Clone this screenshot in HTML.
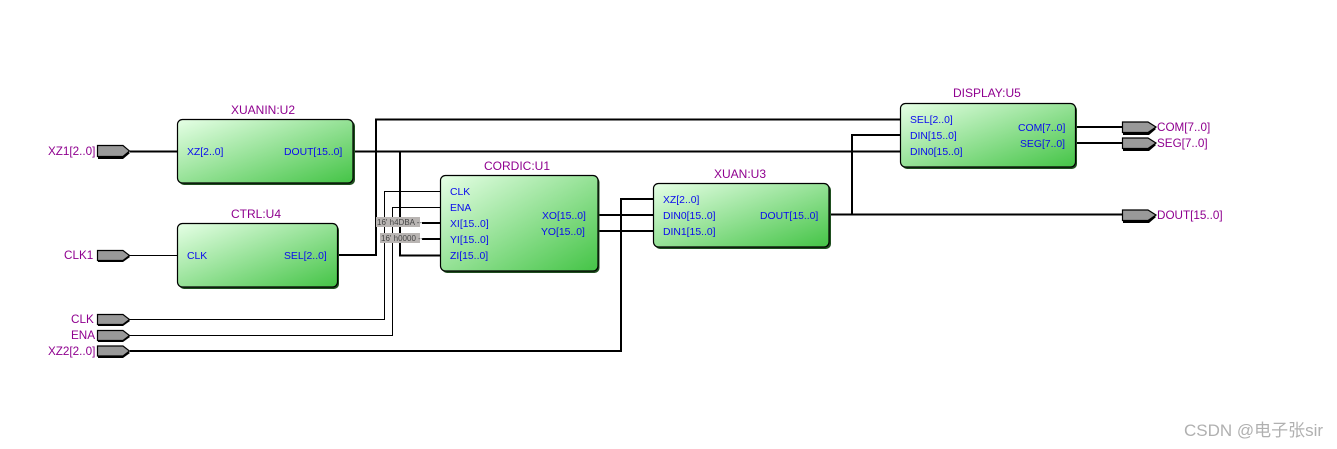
<!DOCTYPE html>
<html><head><meta charset="utf-8"><style>
html,body{margin:0;padding:0;background:#fff}
svg{display:block}
text{font-family:"Liberation Sans",Arial,sans-serif}
.t{font-size:11.7px;fill:#8f008f}
.h{font-size:12px;fill:#8f008f}
.p{font-size:10.4px;fill:#0a0aee}
.b{fill:url(#g);stroke:#000;stroke-width:1.2}
.s{fill:#1f4f1f}
.w{fill:none;stroke:#000;stroke-width:2}
.n{fill:none;stroke:#000;stroke-width:1}
.pin{fill:#999;stroke:#000;stroke-width:1.2}
.ps{fill:#000}
.c{font-size:8px;fill:#444}
</style></head><body>
<svg width="1337" height="449" viewBox="0 0 1337 449" xmlns="http://www.w3.org/2000/svg">
<defs><linearGradient id="g" x1="0" y1="0" x2="1" y2="1"><stop offset="0" stop-color="#e6ffe6"/><stop offset="1" stop-color="#44c446"/></linearGradient></defs>

<!-- wires -->
<path class="w" d="M130 151.500H177"/>
<path class="n" d="M130 255.500H177"/>
<path class="w" d="M353 151.500H900"/>
<path class="w" d="M400 151.500V255.500H440"/>
<path class="w" d="M338 255H376V119.500H900"/>
<path class="n" d="M130 319.500H384.500V191.500H440"/>
<path class="n" d="M130 335.500H392.500V207.500H440"/>
<path class="w" d="M130 351H621V199H653"/>
<path class="w" d="M422 223H440M422 239H440"/>
<path class="w" d="M598 215H653M598 231H653"/>
<path class="w" d="M829 214.500H1122"/>
<path class="w" d="M852 214.500V135H900"/>
<path class="w" d="M1075 127H1122M1075 143H1122"/>

<!-- constants -->
<rect x="376" y="217" width="44" height="10" fill="#b9b5b3"/>
<rect x="380" y="233" width="40" height="10" fill="#b9b5b3"/>
<text class="c" x="377" y="225">16' h4DBA --</text>
<text class="c" x="381" y="241">16' h0000 --</text>

<!-- blocks -->
<rect class="s" x="179" y="121" width="176" height="64" rx="5"/>
<rect class="b" x="177.500" y="119.500" width="175.500" height="63.500" rx="5"/>
<rect class="s" x="179" y="225" width="160" height="64" rx="5"/>
<rect class="b" x="177.500" y="223.500" width="160" height="63.500" rx="5"/>
<rect class="s" x="442" y="177" width="157.500" height="96" rx="5"/>
<rect class="b" x="440.500" y="175.500" width="157.500" height="95.500" rx="5"/>
<rect class="s" x="655" y="185" width="176" height="64" rx="5"/>
<rect class="b" x="653.500" y="183.500" width="175.500" height="63.500" rx="5"/>
<rect class="s" x="902" y="105" width="175" height="64" rx="5"/>
<rect class="b" x="900.500" y="103.500" width="175" height="63.500" rx="5"/>

<!-- titles -->
<text class="h" x="231" y="114">XUANIN:U2</text>
<text class="h" x="231" y="218">CTRL:U4</text>
<text class="h" x="484" y="170">CORDIC:U1</text>
<text class="h" x="714" y="178">XUAN:U3</text>
<text class="h" x="953" y="97">DISPLAY:U5</text>

<!-- ports -->
<text class="p" x="187" y="155">XZ[2..0]</text>
<text class="p" x="284" y="155">DOUT[15..0]</text>
<text class="p" x="187" y="259">CLK</text>
<text class="p" x="284" y="259">SEL[2..0]</text>
<text class="p" x="450" y="195">CLK</text>
<text class="p" x="450" y="211">ENA</text>
<text class="p" x="450" y="227">XI[15..0]</text>
<text class="p" x="450" y="243">YI[15..0]</text>
<text class="p" x="450" y="259">ZI[15..0]</text>
<text class="p" x="542" y="219">XO[15..0]</text>
<text class="p" x="541" y="235">YO[15..0]</text>
<text class="p" x="663" y="203">XZ[2..0]</text>
<text class="p" x="663" y="219">DIN0[15..0]</text>
<text class="p" x="663" y="235">DIN1[15..0]</text>
<text class="p" x="760" y="219">DOUT[15..0]</text>
<text class="p" x="910" y="123">SEL[2..0]</text>
<text class="p" x="910" y="139">DIN[15..0]</text>
<text class="p" x="910" y="155">DIN0[15..0]</text>
<text class="p" x="1018" y="131">COM[7..0]</text>
<text class="p" x="1020" y="147">SEG[7..0]</text>

<!-- input pins -->
<path class="ps" d="M98 148H123L130 153L123 159H98Z"/>
<path class="pin" d="M97.500 145.500H123L129.500 151L123 156.500H97.500Z"/>
<path class="ps" d="M98 252H123L130 257L123 262H98Z"/>
<path class="pin" d="M97.500 250.500H123L129.500 255.500L123 260.500H97.500Z"/>
<path class="ps" d="M98 316H123L130 321L123 326H98Z"/>
<path class="pin" d="M97.500 314.500H123L129.500 319.500L123 324.500H97.500Z"/>
<path class="ps" d="M98 332H123L130 337L123 342H98Z"/>
<path class="pin" d="M97.500 330.500H123L129.500 335.500L123 340.500H97.500Z"/>
<path class="ps" d="M98 348H123L130 353L123 358H98Z"/>
<path class="pin" d="M97.500 346H123L129.500 351L123 356H97.500Z"/>

<text class="t" x="48" y="155">XZ1[2..0]</text>
<text class="t" x="64" y="259">CLK1</text>
<text class="t" x="71" y="323">CLK</text>
<text class="t" x="71" y="339">ENA</text>
<text class="t" x="48" y="355">XZ2[2..0]</text>

<!-- output pins -->
<path class="ps" d="M1123 124H1149L1156 129L1149 135H1123Z"/>
<path class="pin" d="M1122.500 122H1148L1156 127L1148 132.500H1122.500Z"/>
<path class="ps" d="M1123 140H1149L1156 145L1149 151H1123Z"/>
<path class="pin" d="M1122.500 138H1148L1156 143L1148 148.500H1122.500Z"/>
<path class="ps" d="M1123 212H1149L1156 217L1149 223H1123Z"/>
<path class="pin" d="M1122.500 210H1148L1156 215L1148 220.500H1122.500Z"/>
<text class="t" x="1157" y="131">COM[7..0]</text>
<text class="t" x="1157" y="147">SEG[7..0]</text>
<text class="t" x="1157" y="219">DOUT[15..0]</text>

<text x="1184" y="436" style="font-family:'Liberation Sans','Noto Sans CJK SC',sans-serif;font-size:17px;fill:#b0b0b0">CSDN @电子张sir</text>
</svg>
</body></html>
